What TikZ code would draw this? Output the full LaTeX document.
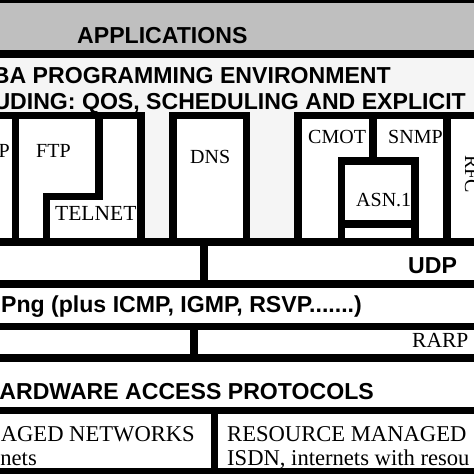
\documentclass[tikz,border=0pt]{standalone}
\usepackage{fontspec}
\setmainfont{Liberation Serif}
\setsansfont{Liberation Sans}
\begin{document}
\begin{tikzpicture}[x=1pt,y=-1pt,
  bar/.style={line width=7.5pt,line cap=rect,line join=miter},
  hd/.style={inner sep=0pt,font=\sffamily\bfseries\fontsize{23.1}{27}\selectfont},
  lb/.style={inner sep=0pt,font=\fontsize{20}{24}\selectfont},
  lbm/.style={inner sep=0pt,font=\fontsize{21.5}{26}\selectfont},
  lbl/.style={inner sep=0pt,font=\fontsize{22.6}{27}\selectfont}]
\useasboundingbox (0,0) rectangle (474,474);
\clip (0,0) rectangle (474,474);
% backgrounds
\fill[white] (0,0) rectangle (474,474);
\fill[black!25] (0,0) rectangle (474,54);
\fill[black!4] (0,54) rectangle (474,242);
\fill[white] (-5,115.5) rectangle (141,242);
\fill[white] (173,115.5) rectangle (246.5,242);
\fill[white] (298,115.5) rectangle (480,242);
% horizontal layers
\draw[bar] (-5,-0.5) -- (480,-0.5);
\draw[bar] (-5,54) -- (480,54);
\draw[bar] (-5,242) -- (480,242);
\draw[bar] (-5,284) -- (480,284);
\draw[bar] (-5,326.5) -- (480,326.5);
\draw[bar] (-5,358) -- (480,358);
\draw[bar] (-5,410.5) -- (480,410.5);
\draw[bar] (-5,472) -- (480,472);
% application boxes
\draw[bar] (-5,115.5) -- (141,115.5) -- (141,242);
\draw[bar] (15.5,115.5) -- (15.5,242);
\draw[bar] (99,115.5) -- (99,196.5) -- (46.5,196.5) -- (46.5,242);
\draw[bar] (173,242) -- (173,115.5) -- (246.5,115.5) -- (246.5,242);
\draw[bar] (298,242) -- (298,115.5) -- (480,115.5);
\draw[bar] (373,115.5) -- (373,161);
\draw[bar] (341.5,242) -- (341.5,161) -- (415,161) -- (415,242);
\draw[bar] (341.5,224) -- (415,224);
\draw[bar] (447,115.5) -- (447,242);
% dividers
\draw[bar] (204,242) -- (204,284);
\draw[bar] (194,326.5) -- (194,358);
\draw[bar] (214.5,410.5) -- (214.5,480);
% texts
\node[hd,anchor=base west] (app) at (77,43) {APPLICATIONS};
\node[hd,anchor=base east] (corba1) at (391,83) {BA PROGRAMMING ENVIRONMENT};
\node[hd,anchor=base east] (corba2) at (466,109) {UDING: QOS, SCHEDULING AND EXPLICIT};
\node[lb,anchor=base east] (p) at (10,157) {P};
\node[lb,anchor=base west] (ftp) at (36,157) {FTP};
\node[lbm,anchor=base west] (telnet) at (55,220) {TELNET};
\node[lb,anchor=base west] (dns) at (190,163) {DNS};
\node[lb,anchor=base west] (cmot) at (308,143) {CMOT};
\node[lb,anchor=base west] (snmp) at (388,143) {SNMP};
\node[lb,anchor=base west] (asn) at (356,206) {ASN.1};
\node[lb,anchor=base west,rotate=-90] (rfc) at (465,155) {RFC};
\node[hd,anchor=base west] (udp) at (408,273) {UDP};
\node[hd,anchor=base east] (ip) at (362,312) {Png (plus ICMP, IGMP, RSVP.......)};
\node[lbm,anchor=base west] (rarp) at (412,347) {RARP};
\node[hd,anchor=base east] (hw) at (374,399) {ARDWARE ACCESS PROTOCOLS};
\node[lbl,anchor=base east] (nets1) at (195,441) {AGED NETWORKS};
\node[lbl,anchor=base east] (nets2) at (37,465) {nets};
\node[lbl,anchor=base west] (res1) at (227,441) {RESOURCE MANAGED};
\node[lbl,anchor=base west] (res2) at (227,465) {ISDN, internets with resou};
\end{tikzpicture}
\end{document}
